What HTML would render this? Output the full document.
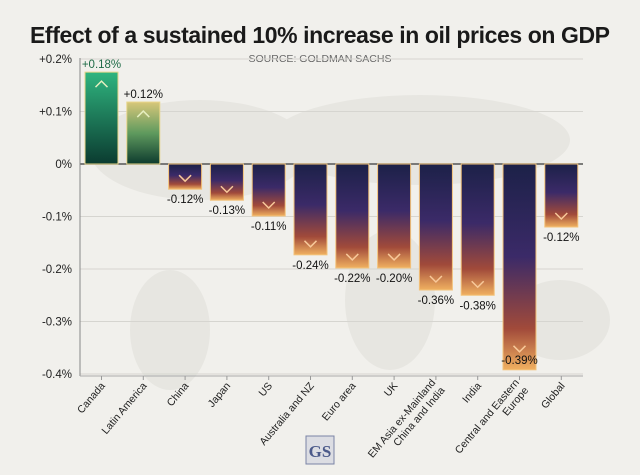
<!DOCTYPE html>
<html><head><meta charset="utf-8"><style>
body{margin:0;background:#f1f0ec;}
svg{display:block;font-family:"Liberation Sans",sans-serif;}
</style></head><body>
<svg id="c" width="640" height="475" viewBox="0 0 640 475">
<defs>
<linearGradient id="gPos" x1="0" y1="0" x2="0" y2="1"><stop offset="0" stop-color="#2fb57f"/><stop offset="1" stop-color="#0b3b30"/></linearGradient>
<linearGradient id="gLA" x1="0" y1="0" x2="0" y2="1"><stop offset="0" stop-color="#d8c77a"/><stop offset="0.5" stop-color="#5f9a5e"/><stop offset="1" stop-color="#0d3b2e"/></linearGradient>
<linearGradient id="gNeg" x1="0" y1="0" x2="0" y2="1"><stop offset="0" stop-color="#1c2148"/><stop offset="0.45" stop-color="#3b2a68"/><stop offset="0.8" stop-color="#a14a3a"/><stop offset="1" stop-color="#f0b060"/></linearGradient>
</defs>
<rect width="640" height="475" fill="#f1f0ec"/>
<g fill="#e7e6e1">
<ellipse cx="200" cy="150" rx="110" ry="50"/><ellipse cx="420" cy="140" rx="150" ry="45"/>
<ellipse cx="390" cy="300" rx="45" ry="70"/><ellipse cx="560" cy="320" rx="50" ry="40"/>
<ellipse cx="170" cy="330" rx="40" ry="60"/>
</g>
<text x="320" y="43" text-anchor="middle" font-size="23" font-weight="bold" fill="#1a1a1a" textLength="580">Effect of a sustained 10% increase in oil prices on GDP</text>
<line x1="122" x2="250" y1="59" y2="59" stroke="#d6d5d0"/>
<text x="320" y="62" text-anchor="middle" font-size="10.5" fill="#666">SOURCE: GOLDMAN SACHS</text>
<g id="grid"></g><g id="bars"></g><g id="axes"></g>
<g><rect x="306" y="436" width="28" height="28" fill="#dcdde3" stroke="#7a83a6"/><text x="320" y="457" text-anchor="middle" font-family="Liberation Serif,serif" font-size="17" font-weight="bold" fill="#4c5a8a">GS</text></g>
</svg>
<script>
const categories=["Canada","Latin America","China","Japan","US","Australia and NZ","Euro area","UK","EM Asia ex-Mainland|China and India","India","Central and Eastern|Europe","Global"];
const values=[0.175,0.118,-0.048,-0.069,-0.099,-0.173,-0.198,-0.198,-0.24,-0.25,-0.392,-0.12];
const printed=["+0.18%","+0.12%","-0.12%","-0.13%","-0.11%","-0.24%","-0.22%","-0.20%","-0.36%","-0.38%","-0.39%","-0.12%"];
const ticks=[0.2,0.1,0,-0.1,-0.2,-0.3,-0.4];
const tickLabels=["+0.2%","+0.1%","0%","-0.1%","-0.2%","-0.3%","-0.4%"];
const NS="http://www.w3.org/2000/svg";
const y=v=>164-v*525;
const x0=85,step=41.8,bw=33;
const xb=i=>x0+i*step;
function mk(t,a,p){const e=document.createElementNS(NS,t);for(const k in a)e.setAttribute(k,a[k]);p.appendChild(e);return e;}
const grid=document.getElementById('grid'),bars=document.getElementById('bars'),axes=document.getElementById('axes');
ticks.forEach((t,i)=>{
 const l=mk('line',{x1:80,x2:583,y1:y(t),y2:y(t),stroke:t===0?'#555':'#d6d5d0','stroke-width':t===0?1.5:1},grid);
 
 
 const tx=mk('text',{x:72,y:y(t)+4,'text-anchor':'end','font-size':11.5,fill:'#222'},axes);
 tx.textContent=tickLabels[i];
 
 
});
const ax=mk('line',{x1:80,x2:80,y1:58,y2:376,stroke:'#888'},axes);


const bx=mk('line',{x1:80,x2:583,y1:376,y2:376,stroke:'#aaa'},axes);


values.forEach((v,i)=>{
 const X=xb(i),top=Math.min(y(v),y(0)),h=Math.abs(y(v)-y(0));
 const fill=v>0?(i===1?'url(#gLA)':'url(#gPos)'):'url(#gNeg)';
 const r=mk('rect',{x:X,y:top,width:bw,height:h,fill:fill,stroke:v>0?'#e8d68a':'#f3c27a','stroke-width':1},bars);
 
 
 const cx=X+bw/2;
 const inside=v<-0.35;
 const cb=inside?y(v)-24:y(v)-14;
 const ch=v>0?`M${cx-6},${top+15} L${cx},${top+9} L${cx+6},${top+15}`:`M${cx-6},${cb} L${cx},${cb+6} L${cx+6},${cb}`;
 const c=mk('path',{d:ch,fill:'none',stroke:v>0?'#e6efc0':'#f8c99a','stroke-width':1.5},bars);
 
 
 const ly=v>0?top-4:(inside?y(v)-6:y(v)+14);
 const t=mk('text',{x:cx,y:ly,'text-anchor':'middle','font-size':11.5,fill:i===0?'#1e6b47':'#111'},bars);
 t.textContent=printed[i];
 
 
 mk('line',{x1:cx,x2:cx,y1:376,y2:380,stroke:'#999'},axes);
 const parts=categories[i].split('|');
 const g=mk('text',{transform:`translate(${cx+4},${386}) rotate(-50)`,'text-anchor':'end','font-size':10.5,fill:'#222'},axes);
 
 
 parts.forEach((p,j)=>{const s=mk('tspan',{x:0,dy:j===0?(parts.length>1?-5:0):12},g);s.textContent=p;});
});
</script>
</body></html>
